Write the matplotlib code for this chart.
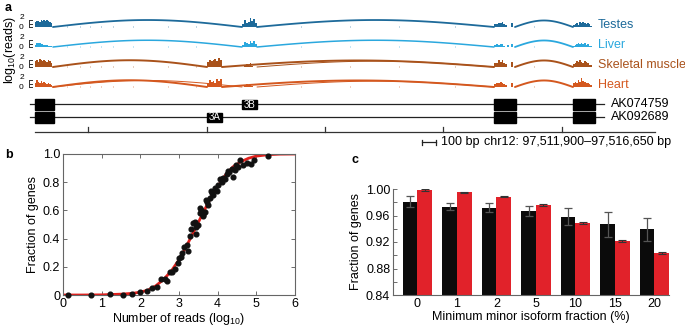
import matplotlib
matplotlib.use("Agg")
import matplotlib.pyplot as plt
from matplotlib.patches import Rectangle
import numpy as np

plt.rcParams['font.family'] = ['Liberation Sans', 'DejaVu Sans']
plt.rcParams['mathtext.fontset'] = 'custom'
plt.rcParams['mathtext.rm'] = 'Liberation Sans'
plt.rcParams['mathtext.it'] = 'Liberation Sans:italic'

W, H = 685, 327
fig = plt.figure(figsize=(W / 100, H / 100), dpi=100)

# ------------------------------------------------------------------ data a
tissues = ["Testes", "Liver", "Skeletal muscle", "Heart"]
tissue_colors = ["#1d6a9a", "#2ba8de", "#a9521b", "#d4581f"]
exon_labels = ["", "3A", "3B", "", ""]
exon_start = [0, 1228, 1478, 3277, 3841]
exon_end = [136, 1335, 1585, 3434, 3998]
cov_start = [0, 1228, 1478, 3277, 3841]
cov_end = [121, 1335, 1585, 3413, 3977]

# coverage (log10 reads) per exon, per tissue (None = no coverage)
coverage = {
    "Testes": [
        [1.1, 1.3, 1.4, 1.2, 1.5, 1.3, 1.6, 1.4, 1.5, 1.3, 1.2, 0.9],
        None,
        [0.6, 1.6, 1.0, 1.2, 1.9, 1.3, 1.8, 1.0],
        [0.7, 0.6, 0.9, 0.8, 1.2, 0.7, 0.5, 0.0, 0.0, 1.0],
        [0.4, 0.6, 1.0, 0.5, 1.1, 0.8, 1.2, 0.9, 0.6, 1.0, 0.7, 0.3],
    ],
    "Liver": [
        [0.5, 0.9, 1.0, 0.8, 0.7, 0.6, 0.5, 0.4, 0.5, 0.3, 0.2, 0.2],
        None,
        [0.5, 1.2, 0.8, 0.6, 1.3, 0.9, 1.4, 0.7],
        [0.5, 0.6, 0.4, 0.7, 0.6, 0.3, 0.0, 0.5, 0.0, 0.6],
        [0.3, 0.5, 0.7, 0.9, 0.6, 1.0, 0.7, 0.8, 0.5, 0.6, 0.3, 0.2],
    ],
    "Skeletal muscle": [
        [1.4, 1.6, 1.2, 1.8, 1.5, 1.3, 1.6, 1.4, 1.2, 1.5, 1.3, 0.8],
        [1.2, 1.6, 1.3, 1.5, 1.8, 1.4, 1.9, 1.6],
        [0.0, 0.4, 0.7, 0.3, 0.8, 0.2, 0.0, 0.0],
        [0.8, 1.0, 1.6, 1.2, 1.5, 0.9, 0.7, 0.0, 0.0, 1.2],
        [0.6, 1.0, 1.3, 1.1, 1.5, 1.2, 1.0, 1.4, 1.2, 0.9, 0.5, 0.4],
    ],
    "Heart": [
        [1.0, 1.6, 1.2, 1.0, 1.4, 0.9, 1.2, 0.8, 0.7, 0.9, 0.6, 0.4],
        [1.0, 1.5, 1.2, 1.4, 1.0, 1.7, 1.3, 1.8],
        [0.0, 0.3, 0.6, 0.4, 0.7, 0.3, 0.0, 0.0],
        [0.6, 0.9, 0.8, 1.1, 0.9, 0.7, 0.5, 0.0, 0.0, 1.0],
        [0.8, 1.2, 1.0, 1.5, 1.1, 1.9, 1.4, 1.2, 1.0, 0.9, 0.6, 0.5],
    ],
}

# splice junctions: (donor bp, acceptor bp, arc height in log10 units, weight)
junctions = {
    "Testes": [(128, 1478, 1.55, 1.3), (1585, 3277, 1.55, 1.3), (3427, 3841, 1.45, 1.3)],
    "Liver": [(128, 1478, 1.5, 1.1), (1585, 3277, 1.5, 1.1), (3427, 3841, 1.45, 1.3)],
    "Skeletal muscle": [(128, 1228, 1.5, 1.4), (1335, 3277, 1.45, 1.4),
                        (1585, 3277, 1.3, 0.7), (3427, 3841, 1.45, 1.4)],
    "Heart": [(128, 1228, 1.5, 1.4), (128, 1478, 1.45, 0.7), (1335, 3277, 1.45, 1.4),
              (1585, 3277, 1.3, 0.7), (3427, 3841, 1.45, 1.4)],
}

# scattered low-level intronic reads
intron_reads = [230, 320, 390, 470, 560, 700, 950, 1150, 1900, 2250, 2600, 3000, 3560]

transcripts = ["AK074759", "AK092689"]
transcript_exons = [[0, 2, 3, 4], [0, 1, 3, 4]]
transcript_span = [-36, 4063]
genome_axis = [0, 4427]
genome_ticks = [380, 1225, 2070, 2915, 3760]
scalebar_bp = 100
region_label = "chr12: 97,511,900\u201397,516,650 bp"

# ------------------------------------------------------------------ data b
bx = [0.13, 0.73, 1.21, 1.55, 1.79, 1.99, 2.16, 2.29, 2.44, 2.53, 2.63, 2.69, 2.76,
      2.83, 2.89, 2.98, 3.05, 3.09, 3.13, 3.20, 3.22, 3.28, 3.32, 3.37, 3.41, 3.45,
      3.48, 3.54, 3.58, 3.63, 3.67, 3.71, 3.76, 3.80, 3.84, 3.89, 3.93, 3.97, 4.02,
      4.06, 4.10, 4.15, 4.19, 4.23, 4.30, 4.36, 4.40, 4.45, 4.53, 4.59, 4.66, 4.75,
      4.85, 4.94, 5.31, 3.00, 3.55, 3.72, 3.86, 4.12, 4.27, 4.48, 3.43, 3.62]
by = [0.0, 0.0, 0.01, 0.0, 0.007, 0.02, 0.03, 0.05, 0.055, 0.11, 0.11, 0.10, 0.16,
      0.16, 0.185, 0.225, 0.27, 0.30, 0.34, 0.355, 0.31, 0.42, 0.47, 0.51, 0.52, 0.43,
      0.50, 0.58, 0.60, 0.56, 0.59, 0.675, 0.64, 0.69, 0.735, 0.71, 0.76, 0.74, 0.78,
      0.82, 0.80, 0.83, 0.82, 0.86, 0.875, 0.895, 0.84, 0.89, 0.905, 0.96, 0.925, 0.935,
      0.93, 0.955, 0.985, 0.26, 0.62, 0.66, 0.72, 0.82, 0.88, 0.92, 0.48, 0.57]
fit_x = [0, 0.5, 1.0, 1.5, 1.8, 2.0, 2.2, 2.4, 2.6, 2.8, 3.0, 3.2, 3.4, 3.6, 3.8,
         4.0, 4.2, 4.4, 4.6, 4.8, 5.0, 5.3, 5.6, 6.0]
fit_y = [0, 0, 0.001, 0.006, 0.012, 0.02, 0.035, 0.065, 0.11, 0.17, 0.25, 0.35, 0.46,
         0.57, 0.68, 0.77, 0.85, 0.91, 0.945, 0.97, 0.985, 0.995, 0.999, 1.0]

# ------------------------------------------------------------------ data c
c_categories = ["0", "1", "2", "5", "10", "15", "20"]
c_black = [0.981, 0.9735, 0.972, 0.9675, 0.958, 0.947, 0.939]
c_black_err = [0.0085, 0.005, 0.0065, 0.0075, 0.013, 0.019, 0.017]
c_red = [0.9985, 0.995, 0.9885, 0.976, 0.949, 0.9215, 0.9035]
c_red_err = [0.001, 0.001, 0.001, 0.0012, 0.0015, 0.0012, 0.0015]

# ================================================================== panel a
axa = fig.add_axes([0, 1 - 150 / H, 1, 150 / H])
axa.set_xlim(-250, 4641)
axa.set_ylim(150, 0)
axa.axis("off")

baselines = [27, 47, 67, 87]
unit = 4.5  # px per log10 unit

for ti, t in enumerate(tissues):
    col = tissue_colors[ti]
    b0 = baselines[ti]
    # y axis bracket
    axa.plot([-46, -46], [b0, b0 - 1.5 * unit], color="#333333", lw=0.7)
    for v in (0, 0.75, 1.5):
        axa.plot([-46, -25], [b0 - v * unit] * 2, color="#333333", lw=0.7)
    axa.text(-80, b0 - 9.3, "2", ha="right", va="center", fontsize=6)
    axa.text(-80, b0 + 0.3, "0", ha="right", va="center", fontsize=6)
    # intronic specks
    for p in intron_reads:
        axa.plot([p, p], [b0, b0 - 0.25 * unit], color=col, lw=0.6, alpha=0.35)
    # coverage
    for ei, cov in enumerate(coverage[t]):
        if cov is None:
            continue
        n = len(cov)
        edges = np.linspace(cov_start[ei], cov_end[ei], n + 1)
        axa.bar(edges[:-1], [-v * unit for v in cov], width=edges[1] - edges[0],
                bottom=b0, align="edge", color=col, linewidth=0)
    # junction arcs
    for (a, bpos, h, w) in junctions[t]:
        xs = np.linspace(a, bpos, 80)
        ys = b0 - h * unit * np.sin(np.pi * (xs - a) / (bpos - a))
        axa.plot(xs, ys, color=col, lw=w, solid_capstyle="round")
    axa.text(4020, b0 - 2, t, color=col, fontsize=9, va="center", ha="left")

# gene models
gene_rows = [104, 117]
for ri, name in enumerate(transcripts):
    y = gene_rows[ri]
    axa.plot(transcript_span, [y, y], color="#222222", lw=0.9, zorder=1)
    for ei in transcript_exons[ri]:
        if exon_labels[ei]:
            hgt = 9
        else:
            hgt = 11
        axa.add_patch(Rectangle((exon_start[ei], y - hgt / 2), exon_end[ei] - exon_start[ei],
                                hgt, color="black", zorder=2))
        if exon_labels[ei]:
            axa.text((exon_start[ei] + exon_end[ei]) / 2, y + 0.5, exon_labels[ei],
                     color="white", fontsize=7, ha="center", va="center", zorder=3)
    axa.text(transcript_span[1] + 50, y, name, fontsize=9, va="center", ha="left")

# genomic axis
axa.plot(genome_axis, [132, 132], color="#333333", lw=0.9)
for tk in genome_ticks:
    axa.plot([tk, tk], [132, 127], color="#333333", lw=0.9)
sb0 = 2763
axa.plot([sb0, sb0 + scalebar_bp], [142, 142], color="#222222", lw=0.9)
axa.plot([sb0, sb0], [139.5, 144.5], color="#222222", lw=0.9)
axa.plot([sb0 + scalebar_bp] * 2, [139.5, 144.5], color="#222222", lw=0.9)
axa.text(sb0 + scalebar_bp + 35, 142.5, "%d bp" % scalebar_bp, fontsize=9, va="center")
axa.text(3206, 142.5, region_label, fontsize=9, va="center")

fig.text(10 / W, 1 - 50 / H, "log$_{10}$(reads)", rotation=90, ha="center", va="center",
         fontsize=9)
fig.text(5 / W, 1 - 8 / H, "a", fontsize=9, fontweight="bold", va="center")

# ================================================================== panel b
axb = fig.add_axes([63 / W, 32 / H, 232 / W, 141 / H])
axb.plot(fit_x, fit_y, color="#e0201c", lw=2.0, zorder=2)
axb.plot(bx, by, "o", color="#111111", ms=3.4, zorder=3, clip_on=False)
axb.set_xlim(0, 6)
axb.set_ylim(0, 1)
axb.set_xticks(range(7))
axb.set_yticks([0, 0.2, 0.4, 0.6, 0.8, 1.0])
axb.set_yticklabels(["0", "0.2", "0.4", "0.6", "0.8", "1.0"])
axb.tick_params(direction="in", top=True, right=True, length=3, width=0.6,
                labelsize=9, pad=2, color="#555555")
for s in axb.spines.values():
    s.set_color("#666666")
    s.set_linewidth(0.8)
axb.set_xlabel("Number of reads (log$_{10}$)", fontsize=9, labelpad=1)
axb.set_ylabel("Fraction of genes", fontsize=9, labelpad=3)
fig.text(5 / W, 1 - 155 / H, "b", fontsize=9, fontweight="bold", va="center")

# ================================================================== panel c
axc = fig.add_axes([393 / W, 32 / H, 276 / W, 106 / H])
xpos = np.arange(len(c_categories))
bw = 0.37
axc.bar(xpos - bw / 2, c_black, bw, bottom=0, color="#0b0b0b", zorder=2)
axc.bar(xpos + bw / 2, c_red, bw, bottom=0, color="#e1222a", zorder=2)
axc.errorbar(xpos - bw / 2, c_black, yerr=c_black_err, fmt="none", ecolor="#555555",
             elinewidth=0.9, capsize=3, capthick=0.9, zorder=3)
axc.errorbar(xpos + bw / 2, c_red, yerr=c_red_err, fmt="none", ecolor="#333333",
             elinewidth=0.8, capsize=3, capthick=0.8, zorder=3)
axc.set_xlim(-0.62, 6.37)
axc.set_ylim(0.84, 1.0)
axc.set_xticks(xpos)
axc.set_xticklabels(c_categories)
axc.set_yticks([0.84, 0.88, 0.92, 0.96, 1.00])
axc.set_yticklabels(["0.84", "0.88", "0.92", "0.96", "1.00"])
axc.set_yticks([0.86, 0.90, 0.94, 0.98], minor=True)
axc.tick_params(axis="y", which="both", direction="in", length=3, width=0.6,
                labelsize=9, pad=2, color="#555555")
axc.tick_params(axis="x", length=0, labelsize=9, pad=2)
axc.spines["top"].set_visible(False)
axc.spines["right"].set_visible(False)
for s in ("left", "bottom"):
    axc.spines[s].set_color("#666666")
    axc.spines[s].set_linewidth(0.8)
axc.set_xlabel("Minimum minor isoform fraction (%)", fontsize=9, labelpad=1)
axc.set_ylabel("Fraction of genes", fontsize=9, labelpad=3)
fig.text(352 / W, 1 - 160 / H, "c", fontsize=9, fontweight="bold", va="center")

fig.savefig("out.png", dpi=100)
